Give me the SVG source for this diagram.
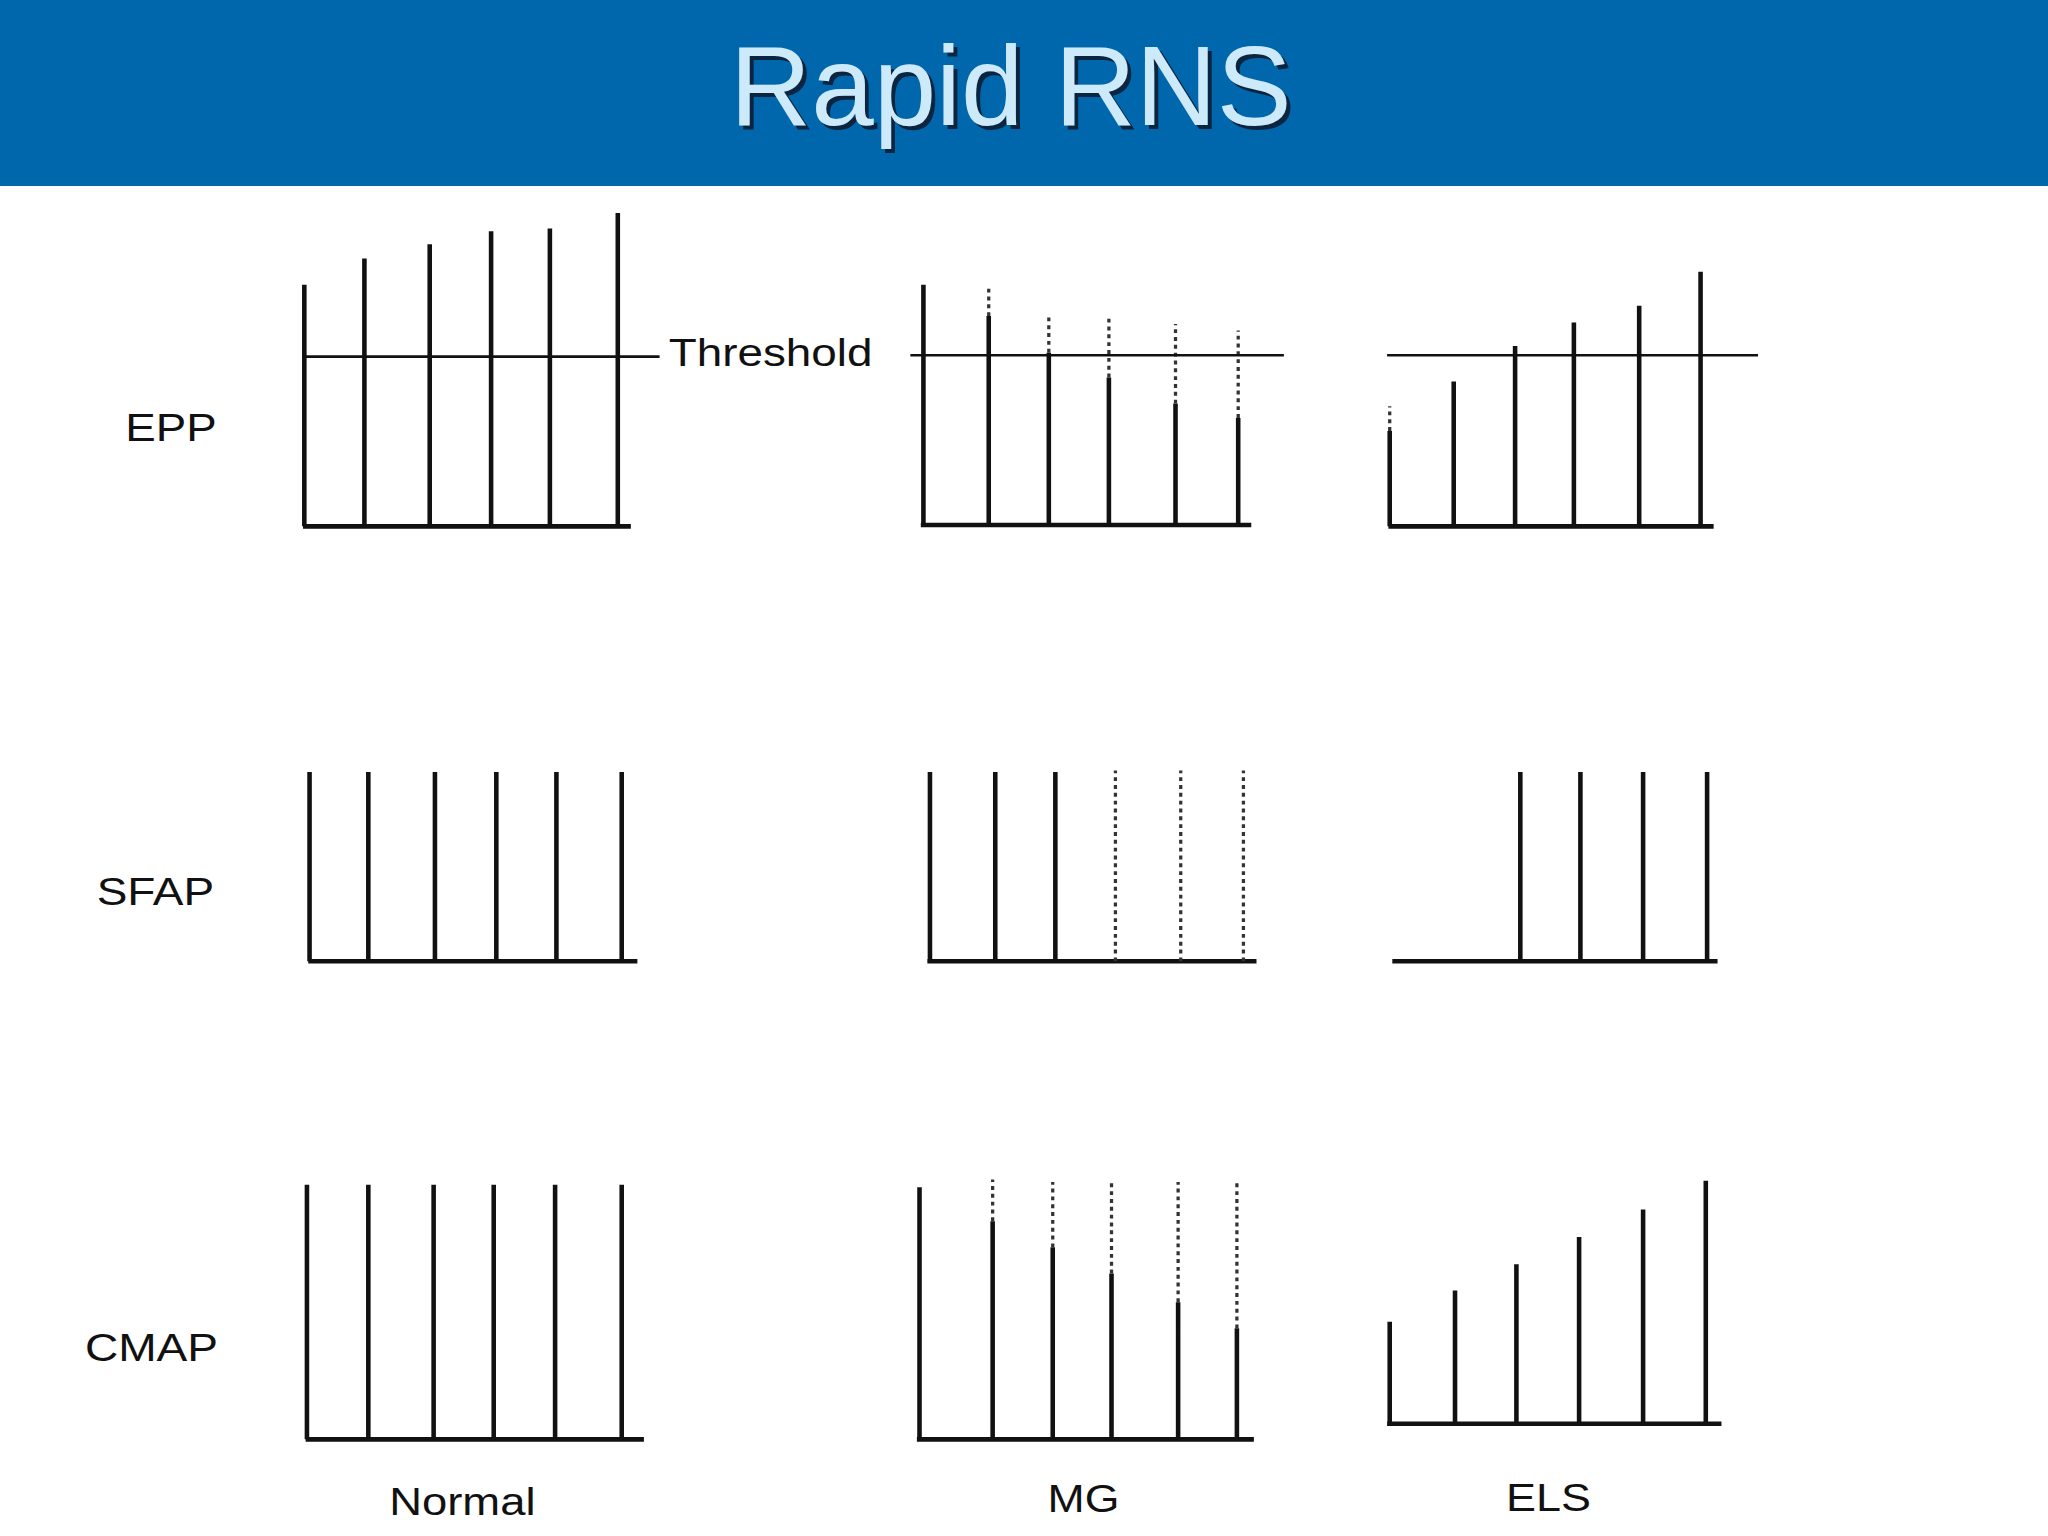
<svg xmlns="http://www.w3.org/2000/svg" width="2048" height="1536" viewBox="0 0 2048 1536">
<style>
.s{stroke:#111;stroke-width:3.5;fill:none}
.d{stroke:#333;stroke-width:2.5;stroke-dasharray:3 3;fill:none}
.t{stroke:#111;stroke-width:2;fill:none}
.l{font-family:"Liberation Sans",Arial,sans-serif;font-size:29px;fill:#111}
</style>
<rect width="2048" height="1536" fill="#fff"/>
<rect width="2048" height="186" fill="#0067ad"/>
<g transform="scale(1.30612)">
<g id="title" font-family="Liberation Sans,Arial,sans-serif" font-size="86" text-anchor="middle">
<text x="777" y="99" fill="#0b2540" textLength="430" lengthAdjust="spacingAndGlyphs">Rapid RNS</text>
<text x="774" y="96" fill="#cdeafa" textLength="430" lengthAdjust="spacingAndGlyphs">Rapid RNS</text>
</g>
<g id="labels">
<text class="l" x="96" y="338" textLength="70" lengthAdjust="spacingAndGlyphs">EPP</text>
<text class="l" x="74" y="693" textLength="90" lengthAdjust="spacingAndGlyphs">SFAP</text>
<text class="l" x="65" y="1042" textLength="102" lengthAdjust="spacingAndGlyphs">CMAP</text>
<text class="l" x="298" y="1160" textLength="112" lengthAdjust="spacingAndGlyphs">Normal</text>
<text class="l" x="802" y="1158" textLength="55" lengthAdjust="spacingAndGlyphs">MG</text>
<text class="l" x="1153" y="1157" textLength="65" lengthAdjust="spacingAndGlyphs">ELS</text>
<text class="l" x="512" y="280" textLength="156" lengthAdjust="spacingAndGlyphs">Threshold</text>
</g>
<g id="connectors">
<path class="s" d="M232 403H483M233 403V218M279 403V198M329 403V187M376 403V177M421 403V175M473 403V163"/>
<path class="t" d="M232 273H505"/>
<path class="s" d="M705 402H958M707 402V218M757 402V242M803 402V270M849 402V289M900 402V309M948 402V320"/>
<path class="d" d="M757 242V220M803 270V240M849 289V243M900 309V248M948 320V253"/>
<path class="t" d="M697 272H983"/>
<path class="s" d="M1063 403H1312M1064 403V330M1113 403V292M1160 403V265M1205 403V247M1255 403V234M1302 403V208"/>
<path class="d" d="M1064 330V311"/>
<path class="t" d="M1062 272H1346"/>
<path class="s" d="M236 736H488M237 736V591M282 736V591M333 736V591M380 736V591M426 736V591M476 736V591"/>
<path class="s" d="M710 736H962M712 736V591M762 736V591M808 736V591"/>
<path class="d" d="M854 736V590M904 736V590M952 736V590"/>
<path class="s" d="M1066 736H1315M1164 736V591M1210 736V591M1258 736V591M1307 736V591"/>
<path class="s" d="M234 1102H493M235 1102V907M282 1102V907M332 1102V907M378 1102V907M425 1102V907M476 1102V907"/>
<path class="s" d="M702 1102H960M704 1102V909M760 1102V935M806 1102V955M851 1102V975M902 1102V997M947 1102V1017"/>
<path class="d" d="M760 935V903M806 955V905M851 975V905M902 997V905M947 1017V905"/>
<path class="s" d="M1062 1090H1318M1064 1090V1012M1114 1090V988M1161 1090V968M1209 1090V947M1258 1090V926M1306 1090V904"/>
</g>
</g>
</svg>
